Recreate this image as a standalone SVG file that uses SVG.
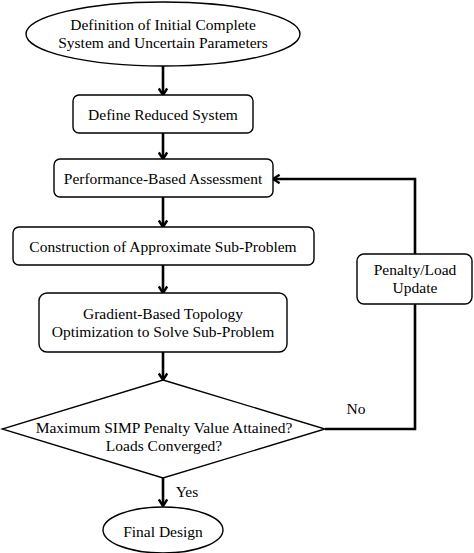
<svg xmlns="http://www.w3.org/2000/svg" width="474" height="553" viewBox="0 0 474 553">
<defs>
<style>
.n{fill:#fff;stroke:#000;stroke-width:1.4}
.t{font-family:'Liberation Serif','Tinos','Times New Roman','DejaVu Serif',serif;font-size:15.5px;fill:#000;text-anchor:middle}
.c{fill:none;stroke:#000;stroke-width:2.6}
</style>
<marker id="ah" viewBox="0 0 10 10" markerUnits="userSpaceOnUse" markerWidth="10" markerHeight="10" refX="8.6" refY="5" orient="auto">
<path d="M2,0.8 L8.6,5 L2,9.2" fill="none" stroke="#000" stroke-width="2.4"/>
</marker>
</defs>
<rect width="474" height="553" fill="#fff"/>
<g id="connectors">
<line class="c" x1="163" y1="66" x2="163" y2="95" marker-end="url(#ah)"/>
<line class="c" x1="163" y1="133" x2="163" y2="159" marker-end="url(#ah)"/>
<line class="c" x1="163" y1="197" x2="163" y2="227" marker-end="url(#ah)"/>
<line class="c" x1="163" y1="265" x2="163" y2="293" marker-end="url(#ah)"/>
<line class="c" x1="163" y1="352" x2="163" y2="380" marker-end="url(#ah)"/>
<line class="c" x1="163" y1="478" x2="163" y2="506" marker-end="url(#ah)"/>
<polyline class="c" points="325,429 415,429 415,304"/>
<polyline class="c" points="415,254 415,179 273,179" marker-end="url(#ah)"/>
<text class="t" x="356" y="414" font-family="Liberation Serif, serif">No</text>
<text class="t" x="187" y="497" font-family="Liberation Serif, serif">Yes</text>
</g>
<g id="start">
<ellipse class="n" cx="163" cy="34" rx="137" ry="32"/>
<text class="t" x="163" y="30">Definition of Initial Complete</text>
<text class="t" x="163" y="48">System and Uncertain Parameters</text>
</g>
<g id="reduced">
<rect class="n" x="73" y="95" width="180" height="38" rx="6"/>
<text class="t" x="163" y="120">Define Reduced System</text>
</g>
<g id="assessment">
<rect class="n" x="54" y="159" width="219" height="38" rx="6"/>
<text class="t" x="163" y="184">Performance-Based Assessment</text>
</g>
<g id="construction">
<rect class="n" x="13" y="227" width="301" height="38" rx="6"/>
<text class="t" x="163" y="252">Construction of Approximate Sub-Problem</text>
</g>
<g id="gradient">
<rect class="n" x="39" y="293" width="248" height="59" rx="8"/>
<text class="t" x="163" y="319">Gradient-Based Topology</text>
<text class="t" x="163" y="337">Optimization to Solve Sub-Problem</text>
</g>
<g id="decision">
<polygon class="n" points="163,380 325,429 163,478 2,429"/>
<text class="t" x="164" y="433">Maximum SIMP Penalty Value Attained?</text>
<text class="t" x="164" y="451">Loads Converged?</text>
</g>
<g id="penalty">
<rect class="n" x="357" y="254" width="115" height="50" rx="7"/>
<text class="t" x="415" y="275">Penalty/Load</text>
<text class="t" x="415" y="293">Update</text>
</g>
<g id="final">
<ellipse class="n" cx="163" cy="530" rx="60" ry="23"/>
<text class="t" x="163" y="537">Final Design</text>
</g>
</svg>
